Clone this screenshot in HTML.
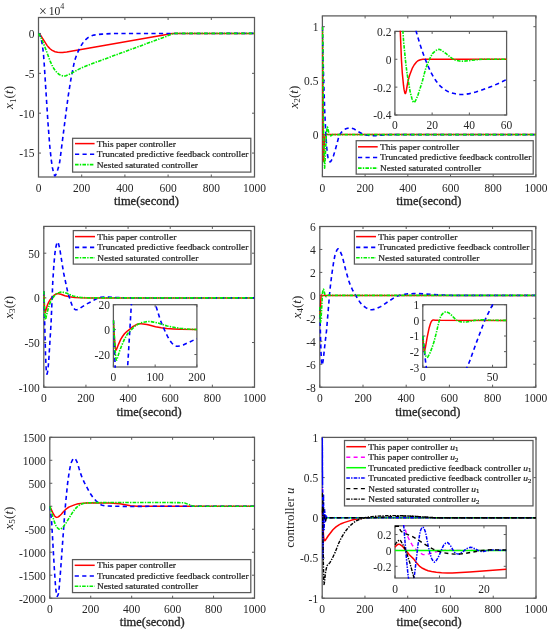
<!DOCTYPE html><html><head><meta charset="utf-8"><title>Simulation results</title><style>html,body{margin:0;padding:0;background:#fff;}svg{display:block;filter:blur(0.3px);}text{font-family:'Liberation Serif','Times New Roman',serif;fill:#262626;}</style></head><body>
<svg width="550" height="631" viewBox="0 0 550 631">
<rect width="550" height="631" fill="#fff"/>
<clipPath id="c1"><rect x="37.8" y="16.8" width="217.4" height="160.9"/></clipPath>
<path d="M38.5 177V174.5M38.5 17.5V20M81.7 177V174.5M81.7 17.5V20M124.9 177V174.5M124.9 17.5V20M168.1 177V174.5M168.1 17.5V20M211.3 177V174.5M211.3 17.5V20M254.5 177V174.5M254.5 17.5V20M38.5 153.07H41M254.5 153.07H252M38.5 113.2H41M254.5 113.2H252M38.5 73.33H41M254.5 73.33H252M38.5 33.45H41M254.5 33.45H252" stroke="#5a5a5a" stroke-width="1" fill="none"/>
<rect x="38.5" y="17.5" width="216" height="159.5" fill="none" stroke="#5a5a5a" stroke-width="1.25"/>
<path d="M38.5 33.4L39.7 34.4L41 35.8L47 45.4L48.2 46.9L50.3 49L52.2 50.4L55.1 51.7L57.6 52.3L60.5 52.6L62.5 52.5L66.7 51.9L88.2 48.3L172.3 33.5L254.5 33.4" fill="none" stroke="#ff0000" stroke-width="1.5" stroke-linejoin="round" clip-path="url(#c1)"/>
<path d="M38.5 33.4L39.1 33.8L39.7 34.8L40.4 36.2L40.9 37.8L42 43L43 49.9L43.6 55.5L44.1 62.2L47.9 121.9L49.8 146.4L51.2 159.4L52.3 167.1L53.5 172.7L54.4 175.1L54.7 175.7L54.9 175.8L55.3 175.5L55.8 174.8L57.7 169.7L58.8 166.1L59.7 162L60.5 156L65.1 119.7L68.3 95.3L71.1 78.2L74.2 62.5L75.3 58.7L76.8 54.4L78.5 50.7L80.4 46.9L81.9 44.4L83.4 42.2L86 39.3L88 37.6L89.3 36.9L91.7 35.8L93.9 35.1L96 34.7L102.1 34.1L113.8 33.5L254.5 33.4" fill="none" stroke="#0000ff" stroke-width="1.6" stroke-dasharray="4.2 3.3" stroke-linejoin="round" clip-path="url(#c1)"/>
<path d="M38.5 33.4L40.4 36.6L42.1 40.1L46.1 50.1L50 60.8L52 65.1L53.8 68.5L54.9 70.1L56 71.4L57.5 73.1L58.8 74.2L59.8 74.8L61.7 75.6L63 76L64.2 76.1L65.9 75.8L69.3 74.3L80.4 68.4L87.3 65.4L160 38.7L166.2 36.4L170.9 34.4L173.7 33.6L174.6 33.4L254.5 33.4" fill="none" stroke="#00ee00" stroke-width="1.6" stroke-dasharray="3.6 1.2 1.4 1.2" stroke-linejoin="round" clip-path="url(#c1)"/>
<text x="38.5" y="191.6" text-anchor="middle" font-size="11.5">0</text>
<text x="81.7" y="191.6" text-anchor="middle" font-size="11.5">200</text>
<text x="124.9" y="191.6" text-anchor="middle" font-size="11.5">400</text>
<text x="168.1" y="191.6" text-anchor="middle" font-size="11.5">600</text>
<text x="211.3" y="191.6" text-anchor="middle" font-size="11.5">800</text>
<text x="254.5" y="191.6" text-anchor="middle" font-size="11.5">1000</text>
<text x="34.5" y="157.48" text-anchor="end" font-size="11.5">-15</text>
<text x="34.5" y="117.61" text-anchor="end" font-size="11.5">-10</text>
<text x="34.5" y="77.73" text-anchor="end" font-size="11.5">-5</text>
<text x="34.5" y="37.86" text-anchor="end" font-size="11.5">0</text>
<text x="38.9" y="15.6" font-size="13.8">&#215;</text><text x="48.8" y="15.3" font-size="11.6">10</text><text x="60.2" y="8.8" font-size="8">4</text>
<rect x="72.6" y="138.3" width="178.2" height="33.8" fill="#fff" stroke="#5a5a5a" stroke-width="1.25"/>
<path d="M75 143.6H94.6" stroke="#ff0000" stroke-width="1.5" fill="none"/>
<text x="96.8" y="146.57" font-size="8.4" textLength="79.1" lengthAdjust="spacingAndGlyphs" stroke="#262626" stroke-width="0.22">This paper controller</text>
<path d="M75 154.2H94.6" stroke="#0000ff" stroke-width="1.6" stroke-dasharray="4.2 3.3" fill="none"/>
<text x="96.8" y="157.17" font-size="8.4" textLength="151.6" lengthAdjust="spacingAndGlyphs" stroke="#262626" stroke-width="0.22">Truncated predictive feedback controller</text>
<path d="M75 164.6H94.6" stroke="#00ee00" stroke-width="1.6" stroke-dasharray="3.6 1.2 1.4 1.2" fill="none"/>
<text x="96.8" y="167.57" font-size="8.4" textLength="101.2" lengthAdjust="spacingAndGlyphs" stroke="#262626" stroke-width="0.22">Nested saturated controller</text>
<text x="146.5" y="205.2" text-anchor="middle" font-size="11.5" textLength="65" lengthAdjust="spacingAndGlyphs" stroke="#262626" stroke-width="0.3">time(second)</text>
<text transform="translate(13.3 97.4) rotate(-90)" text-anchor="middle" font-size="13.2"><tspan font-style="italic">x</tspan><tspan font-size="9.24" dy="2.2">1</tspan><tspan dy="-2.2">(</tspan><tspan font-style="italic">t</tspan>)</text>
<clipPath id="c2"><rect x="321.7" y="15.2" width="214.9" height="162.2"/></clipPath>
<path d="M322.4 176.7V174.2M322.4 15.9V18.4M365.1 176.7V174.2M365.1 15.9V18.4M407.8 176.7V174.2M407.8 15.9V18.4M450.5 176.7V174.2M450.5 15.9V18.4M493.2 176.7V174.2M493.2 15.9V18.4M535.9 176.7V174.2M535.9 15.9V18.4M322.4 134.61H324.9M535.9 134.61H533.4M322.4 80.65H324.9M535.9 80.65H533.4M322.4 26.69H324.9M535.9 26.69H533.4" stroke="#5a5a5a" stroke-width="1" fill="none"/>
<rect x="322.4" y="15.9" width="213.5" height="160.8" fill="none" stroke="#5a5a5a" stroke-width="1.25"/>
<path d="M322.4 26.7L323.2 137.1L323.4 155.3L323.6 161.3L324 149.1L324.4 141.1L325 136.1L325.3 135L325.6 134.6L535.9 134.6" fill="none" stroke="#ff0000" stroke-width="1.5" stroke-linejoin="round" clip-path="url(#c2)"/>
<path d="M322.4 26.7L323 55.6L323.7 80.4L324.7 110.4L325.7 132L326.6 146.2L327.5 155L328.1 158L328.6 160L329.2 161.2L329.9 161.8L330.2 161.9L330.5 161.7L331.5 160.2L332.3 158.6L333.5 155.7L335.4 149.5L338.6 137.5L339.2 135.9L339.7 134.8L340.5 133.4L341.5 132.2L344.4 129.6L345.9 128.8L347.7 128.2L349.1 127.9L350.2 127.8L351.2 128L354.3 129.1L358.5 131.8L362.1 133.8L363.9 134.6L365 134.9L367.6 135.3L372.1 135.7L375.5 135.6L381.9 135.1L390.4 134.6L535.9 134.6" fill="none" stroke="#0000ff" stroke-width="1.6" stroke-dasharray="4.2 3.3" stroke-linejoin="round" clip-path="url(#c2)"/>
<path d="M322.4 26.7L322.6 31.5L322.9 45.4L323.3 111.9L323.6 137.1L324.2 159.8L324.6 168.1L325 162.5L326.3 135.4L326.8 129.9L327.1 127.7L327.4 127L327.8 127.8L329.1 134.5L329.5 135.6L330.1 136.1L330.5 136L332.1 134.8L332.6 134.6L535.9 134.6" fill="none" stroke="#00ee00" stroke-width="1.6" stroke-dasharray="3.6 1.2 1.4 1.2" stroke-linejoin="round" clip-path="url(#c2)"/>
<text x="322.4" y="191.8" text-anchor="middle" font-size="11.5">0</text>
<text x="365.1" y="191.8" text-anchor="middle" font-size="11.5">200</text>
<text x="407.8" y="191.8" text-anchor="middle" font-size="11.5">400</text>
<text x="450.5" y="191.8" text-anchor="middle" font-size="11.5">600</text>
<text x="493.2" y="191.8" text-anchor="middle" font-size="11.5">800</text>
<text x="535.9" y="191.8" text-anchor="middle" font-size="11.5">1000</text>
<text x="318.4" y="139.02" text-anchor="end" font-size="11.5">0</text>
<text x="318.4" y="85.06" text-anchor="end" font-size="11.5">0.5</text>
<text x="318.4" y="31.1" text-anchor="end" font-size="11.5">1</text>
<rect x="356.2" y="140.7" width="177" height="33.4" fill="#fff" stroke="#5a5a5a" stroke-width="1.25"/>
<path d="M358 146.8H377.7" stroke="#ff0000" stroke-width="1.5" fill="none"/>
<text x="380" y="149.77" font-size="8.4" textLength="79.1" lengthAdjust="spacingAndGlyphs" stroke="#262626" stroke-width="0.22">This paper controller</text>
<path d="M358 157.5H377.7" stroke="#0000ff" stroke-width="1.6" stroke-dasharray="4.2 3.3" fill="none"/>
<text x="380" y="160.47" font-size="8.4" textLength="151.3" lengthAdjust="spacingAndGlyphs" stroke="#262626" stroke-width="0.22">Truncated predictive feedback controller</text>
<path d="M358 168.1H377.7" stroke="#00ee00" stroke-width="1.6" stroke-dasharray="3.6 1.2 1.4 1.2" fill="none"/>
<text x="380" y="171.07" font-size="8.4" textLength="101.2" lengthAdjust="spacingAndGlyphs" stroke="#262626" stroke-width="0.22">Nested saturated controller</text>
<text x="428.8" y="204.6" text-anchor="middle" font-size="11.5" textLength="65" lengthAdjust="spacingAndGlyphs" stroke="#262626" stroke-width="0.3">time(second)</text>
<text transform="translate(297.8 97.1) rotate(-90)" text-anchor="middle" font-size="13.2"><tspan font-style="italic">x</tspan><tspan font-size="9.24" dy="2.2">2</tspan><tspan dy="-2.2">(</tspan><tspan font-style="italic">t</tspan>)</text>
<rect x="394.9" y="31.4" width="111.70000000000005" height="83.6" fill="#fff"/>
<clipPath id="c3"><rect x="394.2" y="30.7" width="113.1" height="85"/></clipPath>
<path d="M394.9 115V112.5M394.9 31.4V33.9M432.13 115V112.5M432.13 31.4V33.9M469.37 115V112.5M469.37 31.4V33.9M506.6 115V112.5M506.6 31.4V33.9M394.9 115H397.4M506.6 115H504.1M394.9 87.13H397.4M506.6 87.13H504.1M394.9 59.27H397.4M506.6 59.27H504.1M394.9 31.4H397.4M506.6 31.4H504.1" stroke="#5a5a5a" stroke-width="1" fill="none"/>
<rect x="394.9" y="31.4" width="111.7" height="83.6" fill="none" stroke="#5a5a5a" stroke-width="1.25"/>
<path d="M394.9 -80.1L395.8 -66.5L396.9 -47.5L398.5 -5.6L400.2 29.3L401.5 60.9L402.3 73.1L403.5 85.2L404 89.2L404.7 92.3L405.1 93.5L405.4 93.6L405.7 93.1L406.4 90.2L407.7 82.7L408.9 77.6L409.9 74.5L412.2 68.4L414.1 65L416.5 62L417.9 60.8L420.4 59.7L421.7 59.4L422.8 59.3L506.6 59.3" fill="none" stroke="#ff0000" stroke-width="1.5" stroke-linejoin="round" clip-path="url(#c3)"/>
<path d="M394.9 -80.1L398.7 -52.2L400.4 -41.6L402.3 -31.1L404.9 -17.9L408.9 0.9L412 15.1L414.6 25.8L416.9 34L419.7 43.4L422.2 51L424.7 57.9L427.9 65.8L430.8 72.1L433.3 76.6L436.1 81L438.6 84.3L440.9 86.7L444.8 89.7L448 91.6L450.4 92.6L455.5 93.8L459.6 94.4L463.2 94.5L466 94.3L469.5 93.6L475.8 92L481.2 90.3L488.6 87.6L493.6 85.6L499.6 82.9L506.6 79.5" fill="none" stroke="#0000ff" stroke-width="1.6" stroke-dasharray="4.2 3.3" stroke-linejoin="round" clip-path="url(#c3)"/>
<path d="M394.9 -80.1L395.4 -79.6L395.8 -78.4L396.8 -73.9L397.9 -65.7L398.9 -56L399.7 -40.5L402.7 28.3L403.6 41.4L405.5 60.7L406.3 67.5L407.1 73.7L409.9 90.3L410.5 93.4L411.9 98.4L412.8 100.9L413.4 102.1L413.8 102.4L414.2 102.4L414.5 102.2L415 101.6L415.9 99.9L417.7 95.8L422.2 81.9L425.4 69.6L427 65.1L428.8 60.9L431.2 55.8L432.5 53.6L435 51.2L436.1 50.4L437.2 49.8L438.1 49.5L438.9 49.4L439.8 49.5L440.7 49.9L442 50.7L446.2 53.7L450.8 57.4L452.7 58.8L454.5 59.7L456.1 60.4L459.5 61L461.6 61.2L464.3 61.1L478.6 59.6L482.7 59.3L506.6 59.3" fill="none" stroke="#00ee00" stroke-width="1.6" stroke-dasharray="3.6 1.2 1.4 1.2" stroke-linejoin="round" clip-path="url(#c3)"/>
<text x="394.9" y="128.5" text-anchor="middle" font-size="11.5">0</text>
<text x="432.13" y="128.5" text-anchor="middle" font-size="11.5">20</text>
<text x="469.37" y="128.5" text-anchor="middle" font-size="11.5">40</text>
<text x="506.6" y="128.5" text-anchor="middle" font-size="11.5">60</text>
<text x="391.4" y="119.41" text-anchor="end" font-size="11.5">-0.4</text>
<text x="391.4" y="91.54" text-anchor="end" font-size="11.5">-0.2</text>
<text x="391.4" y="63.68" text-anchor="end" font-size="11.5">0</text>
<text x="391.4" y="35.81" text-anchor="end" font-size="11.5">0.2</text>
<clipPath id="c4"><rect x="43.1" y="225.7" width="212.1" height="162.2"/></clipPath>
<path d="M43.8 387.2V384.7M43.8 226.4V228.9M85.94 387.2V384.7M85.94 226.4V228.9M128.08 387.2V384.7M128.08 226.4V228.9M170.22 387.2V384.7M170.22 226.4V228.9M212.36 387.2V384.7M212.36 226.4V228.9M254.5 387.2V384.7M254.5 226.4V228.9M43.8 387.2H46.3M254.5 387.2H252M43.8 342.53H46.3M254.5 342.53H252M43.8 297.87H46.3M254.5 297.87H252M43.8 253.2H46.3M254.5 253.2H252" stroke="#5a5a5a" stroke-width="1" fill="none"/>
<rect x="43.8" y="226.4" width="210.7" height="160.8" fill="none" stroke="#5a5a5a" stroke-width="1.25"/>
<path d="M43.8 291.2L44.4 305.6L44.7 310.1L45.1 312.6L45.6 311.4L47.5 304.7L48.5 302.6L49.6 300.5L50.6 299.1L54 295.3L55.8 294.1L57 293.7L58.5 293.8L60.9 294.3L64.9 295.8L69.4 296.8L74.9 297.4L81.5 297.8L89.9 297.9L254.5 297.9" fill="none" stroke="#ff0000" stroke-width="1.5" stroke-linejoin="round" clip-path="url(#c4)"/>
<path d="M43.8 291.2L45.6 357L46.2 369.2L46.7 373L47 374.2L47.2 373.6L47.6 371.8L48.1 368L48.8 359.9L49.8 343.6L51.1 322.7L52.8 281.4L53.9 264.5L54.9 253.7L55.6 248.2L56.7 243.8L57.2 242.5L57.6 242L57.9 242.1L58.3 242.9L59.7 248.4L63.6 272.9L67.6 291.5L70.2 300.2L71.7 304.3L72.8 306.6L73.6 308L74.9 309.4L75.6 309.8L76.9 309.7L78.8 309L86.2 304.2L91.8 301.5L95.5 299.2L98.1 298L99.4 297.4L100.6 297.2L108.1 297.1L117.1 297.6L130.9 297.9L254.5 297.9" fill="none" stroke="#0000ff" stroke-width="1.6" stroke-dasharray="4.2 3.3" stroke-linejoin="round" clip-path="url(#c4)"/>
<path d="M43.8 291.2L44.8 314.3L45 318.1L45.4 319.8L45.7 319.1L47.2 312.2L48.4 307.9L49.9 303.3L51.4 300.1L54.2 296L55.6 294.4L56.9 293.5L58 292.9L59.7 292.4L61.1 292.1L62.6 292.1L64.4 292.6L66.8 293.3L70.7 295.1L73.1 295.9L75.7 296.6L80.4 297.4L85.7 297.8L92.2 297.9L254.5 297.9" fill="none" stroke="#00ee00" stroke-width="1.6" stroke-dasharray="3.6 1.2 1.4 1.2" stroke-linejoin="round" clip-path="url(#c4)"/>
<text x="43.8" y="402.2" text-anchor="middle" font-size="11.5">0</text>
<text x="85.94" y="402.2" text-anchor="middle" font-size="11.5">200</text>
<text x="128.08" y="402.2" text-anchor="middle" font-size="11.5">400</text>
<text x="170.22" y="402.2" text-anchor="middle" font-size="11.5">600</text>
<text x="212.36" y="402.2" text-anchor="middle" font-size="11.5">800</text>
<text x="254.5" y="402.2" text-anchor="middle" font-size="11.5">1000</text>
<text x="39.8" y="391.61" text-anchor="end" font-size="11.5">-100</text>
<text x="39.8" y="346.94" text-anchor="end" font-size="11.5">-50</text>
<text x="39.8" y="302.28" text-anchor="end" font-size="11.5">0</text>
<text x="39.8" y="257.61" text-anchor="end" font-size="11.5">50</text>
<rect x="73.3" y="230.6" width="177.7" height="33.5" fill="#fff" stroke="#5a5a5a" stroke-width="1.25"/>
<path d="M75 236.6H95" stroke="#ff0000" stroke-width="1.5" fill="none"/>
<text x="97.2" y="239.57" font-size="8.4" textLength="79.1" lengthAdjust="spacingAndGlyphs" stroke="#262626" stroke-width="0.22">This paper controller</text>
<path d="M75 247.4H95" stroke="#0000ff" stroke-width="1.6" stroke-dasharray="4.2 3.3" fill="none"/>
<text x="97.2" y="250.37" font-size="8.4" textLength="151.1" lengthAdjust="spacingAndGlyphs" stroke="#262626" stroke-width="0.22">Truncated predictive feedback controller</text>
<path d="M75 257.8H95" stroke="#00ee00" stroke-width="1.6" stroke-dasharray="3.6 1.2 1.4 1.2" fill="none"/>
<text x="97.2" y="260.77" font-size="8.4" textLength="101.2" lengthAdjust="spacingAndGlyphs" stroke="#262626" stroke-width="0.22">Nested saturated controller</text>
<text x="149.1" y="415.6" text-anchor="middle" font-size="11.5" textLength="65" lengthAdjust="spacingAndGlyphs" stroke="#262626" stroke-width="0.3">time(second)</text>
<text transform="translate(12.9 307.3) rotate(-90)" text-anchor="middle" font-size="13.2"><tspan font-style="italic">x</tspan><tspan font-size="9.24" dy="2.2">3</tspan><tspan dy="-2.2">(</tspan><tspan font-style="italic">t</tspan>)</text>
<rect x="113.4" y="304.7" width="83.5" height="62.30000000000001" fill="#fff"/>
<clipPath id="c5"><rect x="112.7" y="304" width="84.9" height="63.7"/></clipPath>
<path d="M113.4 367V364.5M113.4 304.7V307.2M155.15 367V364.5M155.15 304.7V307.2M196.9 367V364.5M196.9 304.7V307.2M113.4 354.54H115.9M196.9 354.54H194.4M113.4 329.62H115.9M196.9 329.62H194.4M113.4 304.7H115.9M196.9 304.7H194.4" stroke="#5a5a5a" stroke-width="1" fill="none"/>
<rect x="113.4" y="304.7" width="83.5" height="62.3" fill="none" stroke="#5a5a5a" stroke-width="1.25"/>
<path d="M113.4 320.3L114 331.4L114.6 340.3L115.2 346.5L115.7 349.5L115.9 350.2L116.2 349.9L116.9 348.5L118.4 344.6L120.7 339.4L122.5 336.5L124.5 333.8L126.8 331.5L129.6 329.4L133.2 326.3L136 324.8L138.2 324L139.5 323.8L141.3 323.8L146.9 324.5L149.1 325L155.5 326.7L161.3 327.7L166.7 328.4L173.6 328.9L180.8 329.3L196.9 329.6" fill="none" stroke="#ff0000" stroke-width="1.5" stroke-linejoin="round" clip-path="url(#c5)"/>
<path d="M113.4 320.3L115.8 383.6L117 412.1L118.2 428.9L119 434.3L119.3 435.5L119.6 436L119.9 435.9L120.2 435.4L121 432.9L121.8 427.8L123.2 416.2L125.3 393.4L127.8 364L131.2 306.9L132.1 295.4L133.2 284.6L135.2 269.6L136.5 261.2L137.1 258.9L138.2 255.8L139.1 253.7L140 252.3L140.5 251.8L141 251.6L141.4 251.8L141.9 252.4L142.9 254.7L144.8 260.1L146.2 265.6L152.5 294.3L153.8 298.9L159.9 318.8L162.1 324.6L166.2 333.8L168.1 337.5L169.8 340.4L171.6 342.8L173 344.3L174.6 345.4L175.6 346L176.5 346.3L177.5 346.3L180.2 345.9L183.2 345L193.6 340.1L196.9 338.7" fill="none" stroke="#0000ff" stroke-width="1.6" stroke-dasharray="4.2 3.3" stroke-linejoin="round" clip-path="url(#c5)"/>
<path d="M113.4 320.3L115.3 352.3L115.8 357.8L116.2 359.6L116.5 360.1L116.8 359.9L117 359.3L119.6 351L121.7 345.5L124.5 339.1L126.9 334.8L128.1 333.1L129.4 331.6L134.7 326.4L135.8 325.5L137.1 324.7L140.6 323L142.5 322.4L146.4 321.7L148.7 321.5L150.9 321.6L153.5 322.1L158.2 323.1L164.8 325.3L167.3 326L175.3 327.6L180.1 328.3L185.2 328.9L190.4 329.2L196.9 329.5" fill="none" stroke="#00ee00" stroke-width="1.6" stroke-dasharray="3.6 1.2 1.4 1.2" stroke-linejoin="round" clip-path="url(#c5)"/>
<text x="113.4" y="380.5" text-anchor="middle" font-size="11.5">0</text>
<text x="155.15" y="380.5" text-anchor="middle" font-size="11.5">100</text>
<text x="196.9" y="380.5" text-anchor="middle" font-size="11.5">200</text>
<text x="109.9" y="358.95" text-anchor="end" font-size="11.5">-20</text>
<text x="109.9" y="334.03" text-anchor="end" font-size="11.5">0</text>
<text x="109.9" y="309.11" text-anchor="end" font-size="11.5">20</text>
<clipPath id="c6"><rect x="319.1" y="225.8" width="217.4" height="162.1"/></clipPath>
<path d="M319.8 387.2V384.7M319.8 226.5V229M363 387.2V384.7M363 226.5V229M406.2 387.2V384.7M406.2 226.5V229M449.4 387.2V384.7M449.4 226.5V229M492.6 387.2V384.7M492.6 226.5V229M535.8 387.2V384.7M535.8 226.5V229M319.8 387.2H322.3M535.8 387.2H533.3M319.8 364.24H322.3M535.8 364.24H533.3M319.8 341.29H322.3M535.8 341.29H533.3M319.8 318.33H322.3M535.8 318.33H533.3M319.8 295.37H322.3M535.8 295.37H533.3M319.8 272.41H322.3M535.8 272.41H533.3M319.8 249.46H322.3M535.8 249.46H533.3M319.8 226.5H322.3M535.8 226.5H533.3" stroke="#5a5a5a" stroke-width="1" fill="none"/>
<rect x="319.8" y="226.5" width="216" height="160.7" fill="none" stroke="#5a5a5a" stroke-width="1.25"/>
<path d="M319.8 306.9L320.1 317.9L320.8 300.6L321.1 296.3L321.4 295L322.2 295.4L535.8 295.4" fill="none" stroke="#ff0000" stroke-width="1.5" stroke-linejoin="round" clip-path="url(#c6)"/>
<path d="M319.8 306.9L320.5 336.7L321 352L321.5 360.8L321.9 364.1L322.1 365L322.3 364.8L322.5 364L323.2 360.2L325.2 341.8L326.5 331L329.5 294.8L330.5 285L331.8 274.4L333.7 261.7L334.9 255.5L335.4 254L336.6 250.7L337.3 249.5L337.9 248.9L338.3 248.9L338.7 249.1L339.5 250L340.4 251.9L341.8 255.1L342.9 258.8L345.5 269.3L348.7 280.7L350.5 285.5L352.8 290.5L358.7 300.4L360.2 302.6L361.6 304.4L362.9 305.6L366.2 307.9L368.3 309L370.1 309.7L372.1 309.8L374.2 309.4L376.5 308.6L380.7 306.6L382.8 305.4L387.7 301.9L393.5 298.2L395.6 296.9L397.5 296L399.1 295.4L402 294.8L404.8 294.3L407.5 293.9L413.8 293.6L418.4 293.6L438.2 294.9L451.9 295.4L535.8 295.4" fill="none" stroke="#0000ff" stroke-width="1.6" stroke-dasharray="4.2 3.3" stroke-linejoin="round" clip-path="url(#c6)"/>
<path d="M319.8 306.9L320.2 320.2L320.4 322.2L320.5 322.6L320.5 322.4L321 318.9L321.4 313L322.5 292.9L322.9 290.3L323.2 289.4L323.4 289.2L323.6 289.5L324 290.4L325.1 295.6L325.7 296.4L326.4 296.6L326.7 296.5L327.8 295.4L328.9 295L331 295.4L535.8 295.4" fill="none" stroke="#00ee00" stroke-width="1.6" stroke-dasharray="3.6 1.2 1.4 1.2" stroke-linejoin="round" clip-path="url(#c6)"/>
<text x="319.8" y="402.4" text-anchor="middle" font-size="11.5">0</text>
<text x="363" y="402.4" text-anchor="middle" font-size="11.5">200</text>
<text x="406.2" y="402.4" text-anchor="middle" font-size="11.5">400</text>
<text x="449.4" y="402.4" text-anchor="middle" font-size="11.5">600</text>
<text x="492.6" y="402.4" text-anchor="middle" font-size="11.5">800</text>
<text x="535.8" y="402.4" text-anchor="middle" font-size="11.5">1000</text>
<text x="315.8" y="391.61" text-anchor="end" font-size="11.5">-8</text>
<text x="315.8" y="368.65" text-anchor="end" font-size="11.5">-6</text>
<text x="315.8" y="345.7" text-anchor="end" font-size="11.5">-4</text>
<text x="315.8" y="322.74" text-anchor="end" font-size="11.5">-2</text>
<text x="315.8" y="299.78" text-anchor="end" font-size="11.5">0</text>
<text x="315.8" y="276.82" text-anchor="end" font-size="11.5">2</text>
<text x="315.8" y="253.87" text-anchor="end" font-size="11.5">4</text>
<text x="315.8" y="230.91" text-anchor="end" font-size="11.5">6</text>
<rect x="354.4" y="230.7" width="177.6" height="33.4" fill="#fff" stroke="#5a5a5a" stroke-width="1.25"/>
<path d="M356.1 236.6H376" stroke="#ff0000" stroke-width="1.5" fill="none"/>
<text x="378.2" y="239.57" font-size="8.4" textLength="79.1" lengthAdjust="spacingAndGlyphs" stroke="#262626" stroke-width="0.22">This paper controller</text>
<path d="M356.1 247.4H376" stroke="#0000ff" stroke-width="1.6" stroke-dasharray="4.2 3.3" fill="none"/>
<text x="378.2" y="250.37" font-size="8.4" textLength="151.1" lengthAdjust="spacingAndGlyphs" stroke="#262626" stroke-width="0.22">Truncated predictive feedback controller</text>
<path d="M356.1 257.8H376" stroke="#00ee00" stroke-width="1.6" stroke-dasharray="3.6 1.2 1.4 1.2" fill="none"/>
<text x="378.2" y="260.77" font-size="8.4" textLength="101.2" lengthAdjust="spacingAndGlyphs" stroke="#262626" stroke-width="0.22">Nested saturated controller</text>
<text x="427.8" y="415.6" text-anchor="middle" font-size="11.5" textLength="65" lengthAdjust="spacingAndGlyphs" stroke="#262626" stroke-width="0.3">time(second)</text>
<text transform="translate(300.5 307.1) rotate(-90)" text-anchor="middle" font-size="13.2"><tspan font-style="italic">x</tspan><tspan font-size="9.24" dy="2.2">4</tspan><tspan dy="-2.2">(</tspan><tspan font-style="italic">t</tspan>)</text>
<rect x="422.8" y="304.7" width="83.69999999999999" height="62.60000000000002" fill="#fff"/>
<clipPath id="c7"><rect x="422.1" y="304" width="85.1" height="64"/></clipPath>
<path d="M422.8 367.3V364.8M422.8 304.7V307.2M492.55 367.3V364.8M492.55 304.7V307.2M422.8 367.3H425.3M506.5 367.3H504M422.8 351.65H425.3M506.5 351.65H504M422.8 336H425.3M506.5 336H504M422.8 320.35H425.3M506.5 320.35H504M422.8 304.7H425.3M506.5 304.7H504" stroke="#5a5a5a" stroke-width="1" fill="none"/>
<rect x="422.8" y="304.7" width="83.7" height="62.6" fill="none" stroke="#5a5a5a" stroke-width="1.25"/>
<path d="M422.8 336L423.4 344.7L424 349.8L424.3 351.2L424.7 350.5L425.5 347.1L427.1 337.6L428.4 331.3L429.2 327.7L430.4 323.8L431.2 321.8L431.8 320.9L432.5 320.3L433.1 319.9L433.6 319.9L435.3 320.2L438.1 320.3L506.5 320.4" fill="none" stroke="#ff0000" stroke-width="1.5" stroke-linejoin="round" clip-path="url(#c7)"/>
<path d="M422.8 336L425.2 358.6L428 380.4L429.4 390.4L431.6 401.8L432.5 405.9L433.3 408.8L433.9 410.2L435.2 412.7L436.3 414.3L437.2 415.2L438.1 415.3L439.2 414.9L440.4 413.9L442.7 411.4L443.8 410.1L445 408.2L450.7 397.6L457.7 383.6L464 373.1L466.1 369.1L468.1 365L470.2 359.8L476.2 343L482.9 325.3L484.7 320.7L487.2 315.3L491.4 306.9L496.5 297.9L501.5 289.8L506.5 282.8" fill="none" stroke="#0000ff" stroke-width="1.6" stroke-dasharray="4.2 3.3" stroke-linejoin="round" clip-path="url(#c7)"/>
<path d="M422.8 336L423.8 346L425 353.5L425.5 355.2L425.9 356.2L426.6 357.2L427.2 357.4L427.6 357.2L428 356.6L429.9 353.2L431.2 349.9L433 345L434.4 340.3L436.3 332.9L438.8 322.2L440.4 317.3L441 315.9L441.6 314.9L443.3 313.1L444.7 312.2L445.6 311.9L446.6 312L447.7 312.4L449.4 313.3L450.5 314.2L455.3 319.1L456.6 320.2L457.5 320.7L458.7 321.2L461.3 321.9L464.4 322L466.6 322L474.3 320.4L480.3 319.9L483.8 319.9L494.4 320.3L506.5 320.4" fill="none" stroke="#00ee00" stroke-width="1.6" stroke-dasharray="3.6 1.2 1.4 1.2" stroke-linejoin="round" clip-path="url(#c7)"/>
<text x="422.8" y="380.8" text-anchor="middle" font-size="11.5">0</text>
<text x="492.55" y="380.8" text-anchor="middle" font-size="11.5">50</text>
<text x="419.3" y="371.71" text-anchor="end" font-size="11.5">-3</text>
<text x="419.3" y="356.06" text-anchor="end" font-size="11.5">-2</text>
<text x="419.3" y="340.41" text-anchor="end" font-size="11.5">-1</text>
<text x="419.3" y="324.76" text-anchor="end" font-size="11.5">0</text>
<text x="419.3" y="309.11" text-anchor="end" font-size="11.5">1</text>
<clipPath id="c8"><rect x="49.1" y="436.6" width="206.1" height="162.3"/></clipPath>
<path d="M49.8 598.2V595.7M49.8 437.3V439.8M90.74 598.2V595.7M90.74 437.3V439.8M131.68 598.2V595.7M131.68 437.3V439.8M172.62 598.2V595.7M172.62 437.3V439.8M213.56 598.2V595.7M213.56 437.3V439.8M254.5 598.2V595.7M254.5 437.3V439.8M49.8 598.2H52.3M254.5 598.2H252M49.8 575.21H52.3M254.5 575.21H252M49.8 552.23H52.3M254.5 552.23H252M49.8 529.24H52.3M254.5 529.24H252M49.8 506.26H52.3M254.5 506.26H252M49.8 483.27H52.3M254.5 483.27H252M49.8 460.29H52.3M254.5 460.29H252M49.8 437.3H52.3M254.5 437.3H252" stroke="#5a5a5a" stroke-width="1" fill="none"/>
<rect x="49.8" y="437.3" width="204.7" height="160.9" fill="none" stroke="#5a5a5a" stroke-width="1.25"/>
<path d="M49.8 506.3L52.6 512.4L54.4 515.6L55.3 516.7L56.1 517.2L56.8 517.4L57.8 517.1L59.5 516L61.3 514.3L63.4 511.7L65.4 509.7L67.5 508L69.3 506.9L75.1 504.6L76.8 504.1L80.7 503.4L86.2 502.9L90.6 502.8L102.6 502.9L109.9 503.1L116.3 503.4L119.9 503.7L130.5 505.7L137.1 506.2L254.5 506.3" fill="none" stroke="#ff0000" stroke-width="1.5" stroke-linejoin="round" clip-path="url(#c8)"/>
<path d="M49.8 506.3L50.7 512.1L51.7 522.9L54.3 568.3L55.4 584.5L55.8 588.9L56.4 593.4L56.8 595.7L57.2 596.4L57.4 596.2L57.7 595.7L58.5 593.4L59.2 587.6L60.6 570.3L64.8 512.3L66.4 495.1L67.6 483.4L69.2 471.9L70.6 464.9L71.2 462.8L72.2 460.5L73.1 458.9L73.9 458.3L74.5 458.3L75.2 458.8L76 460L77 461.9L77.6 463.6L79.2 469L81.1 474.9L82.4 478.4L84.4 482.6L89.8 492.9L92.8 497.2L96 500.8L97.5 502.2L99.8 504.1L101.1 504.8L102.2 505.2L105 505.8L107.5 506L128.9 506.5L151.6 506.3L254.5 506.3" fill="none" stroke="#0000ff" stroke-width="1.6" stroke-dasharray="4.2 3.3" stroke-linejoin="round" clip-path="url(#c8)"/>
<path d="M49.8 506.3L53.9 520.5L55.4 524.6L56.2 526.3L56.9 527.3L58.4 528.8L59 529.1L59.5 529.2L60.4 529.1L61.4 528.5L62.4 527.9L63.2 526.9L65.9 523.2L73.2 511.4L74.9 509.3L76.6 507.4L79 505.4L80.5 504.4L83.4 503.5L87.1 502.9L90.6 502.7L114.3 502.5L151.3 502.5L178.4 502.6L183.7 502.8L184.6 502.9L192.1 505.8L193.3 506.1L194.3 506.3L254.5 506.3" fill="none" stroke="#00ee00" stroke-width="1.6" stroke-dasharray="3.6 1.2 1.4 1.2" stroke-linejoin="round" clip-path="url(#c8)"/>
<text x="49.8" y="612.9" text-anchor="middle" font-size="11.5">0</text>
<text x="90.74" y="612.9" text-anchor="middle" font-size="11.5">200</text>
<text x="131.68" y="612.9" text-anchor="middle" font-size="11.5">400</text>
<text x="172.62" y="612.9" text-anchor="middle" font-size="11.5">600</text>
<text x="213.56" y="612.9" text-anchor="middle" font-size="11.5">800</text>
<text x="254.5" y="612.9" text-anchor="middle" font-size="11.5">1000</text>
<text x="45.8" y="602.61" text-anchor="end" font-size="11.5">-2000</text>
<text x="45.8" y="579.62" text-anchor="end" font-size="11.5">-1500</text>
<text x="45.8" y="556.64" text-anchor="end" font-size="11.5">-1000</text>
<text x="45.8" y="533.65" text-anchor="end" font-size="11.5">-500</text>
<text x="45.8" y="510.67" text-anchor="end" font-size="11.5">0</text>
<text x="45.8" y="487.68" text-anchor="end" font-size="11.5">500</text>
<text x="45.8" y="464.7" text-anchor="end" font-size="11.5">1000</text>
<text x="45.8" y="441.71" text-anchor="end" font-size="11.5">1500</text>
<rect x="72.5" y="559.6" width="178.3" height="33" fill="#fff" stroke="#5a5a5a" stroke-width="1.25"/>
<path d="M74.7 565.3H94.7" stroke="#ff0000" stroke-width="1.5" fill="none"/>
<text x="96.9" y="568.27" font-size="8.4" textLength="79.1" lengthAdjust="spacingAndGlyphs" stroke="#262626" stroke-width="0.22">This paper controller</text>
<path d="M74.7 576H94.7" stroke="#0000ff" stroke-width="1.6" stroke-dasharray="4.2 3.3" fill="none"/>
<text x="96.9" y="578.97" font-size="8.4" textLength="151.7" lengthAdjust="spacingAndGlyphs" stroke="#262626" stroke-width="0.22">Truncated predictive feedback controller</text>
<path d="M74.7 586.2H94.7" stroke="#00ee00" stroke-width="1.6" stroke-dasharray="3.6 1.2 1.4 1.2" fill="none"/>
<text x="96.9" y="589.17" font-size="8.4" textLength="101.2" lengthAdjust="spacingAndGlyphs" stroke="#262626" stroke-width="0.22">Nested saturated controller</text>
<text x="152.2" y="625.8" text-anchor="middle" font-size="11.5" textLength="65" lengthAdjust="spacingAndGlyphs" stroke="#262626" stroke-width="0.3">time(second)</text>
<text transform="translate(13 518) rotate(-90)" text-anchor="middle" font-size="13.2"><tspan font-style="italic">x</tspan><tspan font-size="9.24" dy="2.2">5</tspan><tspan dy="-2.2">(</tspan><tspan font-style="italic">t</tspan>)</text>
<clipPath id="c9"><rect x="321.5" y="436.7" width="215.2" height="162.2"/></clipPath>
<path d="M322.2 598.2V595.7M322.2 437.4V439.9M364.96 598.2V595.7M364.96 437.4V439.9M407.72 598.2V595.7M407.72 437.4V439.9M450.48 598.2V595.7M450.48 437.4V439.9M493.24 598.2V595.7M493.24 437.4V439.9M536 598.2V595.7M536 437.4V439.9M322.2 598.2H324.7M536 598.2H533.5M322.2 558H324.7M536 558H533.5M322.2 517.8H324.7M536 517.8H533.5M322.2 477.6H324.7M536 477.6H533.5M322.2 437.4H324.7M536 437.4H533.5" stroke="#5a5a5a" stroke-width="1" fill="none"/>
<rect x="322.2" y="437.4" width="213.8" height="160.8" fill="none" stroke="#5a5a5a" stroke-width="1.25"/>
<path d="M322.2 514.6L322.4 511.6L322.5 513.1L323.4 533.2L323.6 537L324.1 539.7L324.5 540.4L324.8 540.7L325.6 539.9L328.1 536L332.9 529.7L336 526.9L339 524.8L341.2 523.7L343.9 522.6L351.8 520.1L357 519.1L364.9 518.1L369.2 517.8L536 517.8" fill="none" stroke="#ff0000" stroke-width="1.5" stroke-linejoin="round" clip-path="url(#c9)"/>
<path d="M322.2 488.9L322.4 488.9L322.4 489L322.6 491.3L323 512.8L323.3 518.4L323.6 522.1L323.9 521L324.4 518.3L324.5 517.8L324.9 517.6L325.2 517.8L536 517.8" fill="none" stroke="#ff00ff" stroke-width="1.4" stroke-dasharray="4 3.3" stroke-linejoin="round" clip-path="url(#c9)"/>
<path d="M322.2 517.8L536 517.8" fill="none" stroke="#00ff00" stroke-width="1.5" stroke-linejoin="round" clip-path="url(#c9)"/>
<path d="M322.2 437.4L322.2 472.1L322.3 439L322.4 477.6L322.4 445.4L322.5 484L322.5 471.6L323 558L323.4 501.3L323.5 494.2L323.9 524.3L324.1 529.7L324.7 509.8L325.1 519.6L325.3 521.6L325.7 515.9L325.8 514.7L326.4 518.8L326.9 517.3L327.2 517.6L327.8 517.8L536 517.8" fill="none" stroke="#0000ff" stroke-width="1.5" stroke-dasharray="3.6 1.2 1.4 1.2" stroke-linejoin="round" clip-path="url(#c9)"/>
<path d="M322.2 493.3L322.4 493.3L322.6 499.3L323 503.8L324.1 517.2L324.6 520.2L324.8 521.1L325.1 521.6L325.6 520.8L326.3 517.9L326.7 517.3L326.9 517.2L328.6 517.8L367.5 517.8L377.5 517.4L388.2 516.9L398.6 516.2L403.8 516L409.2 516.2L419.3 516.6L432.7 517.6L438.6 517.8L536 517.8" fill="none" stroke="#000000" stroke-width="1.4" stroke-dasharray="4 3.3" stroke-linejoin="round" clip-path="url(#c9)"/>
<path d="M322.2 512.2L322.4 507.3L322.6 513.3L323.4 564.6L323.8 580.4L324 584.5L324.2 583.9L324.6 581.6L325.3 574.3L325.7 571.6L326.3 568.5L327 565.9L327.6 564.9L328.9 563.7L329.9 562.6L331.1 560.6L332.4 558.2L335.1 552.4L338.7 543.2L340.4 539.7L342.2 536.3L344.1 533.2L346.8 529.5L348.9 526.9L351 524.9L353.7 522.6L356.3 520.9L359.2 519.5L362.3 518.4L364.3 517.8L367.8 517.2L374.5 516.3L385.8 515.8L396.2 515.6L404.5 515.8L414.3 516.3L427.2 517.3L439.7 517.8L536 517.8" fill="none" stroke="#000000" stroke-width="1.4" stroke-dasharray="3.6 1.2 1.4 1.2" stroke-linejoin="round" clip-path="url(#c9)"/>
<text x="322.2" y="612.9" text-anchor="middle" font-size="11.5">0</text>
<text x="364.96" y="612.9" text-anchor="middle" font-size="11.5">200</text>
<text x="407.72" y="612.9" text-anchor="middle" font-size="11.5">400</text>
<text x="450.48" y="612.9" text-anchor="middle" font-size="11.5">600</text>
<text x="493.24" y="612.9" text-anchor="middle" font-size="11.5">800</text>
<text x="536" y="612.9" text-anchor="middle" font-size="11.5">1000</text>
<text x="318.2" y="602.61" text-anchor="end" font-size="11.5">-1</text>
<text x="318.2" y="562.41" text-anchor="end" font-size="11.5">-0.5</text>
<text x="318.2" y="522.21" text-anchor="end" font-size="11.5">0</text>
<text x="318.2" y="482.01" text-anchor="end" font-size="11.5">0.5</text>
<text x="318.2" y="441.81" text-anchor="end" font-size="11.5">1</text>
<rect x="344.5" y="440.5" width="188.5" height="65.4" fill="#fff" stroke="#5a5a5a" stroke-width="1.25"/>
<path d="M346.3 446.7H366" stroke="#ff0000" stroke-width="1.5" fill="none"/>
<text x="368.2" y="449.67" font-size="8.4" textLength="90.2" lengthAdjust="spacingAndGlyphs" stroke="#262626" stroke-width="0.22">This paper controller <tspan font-style="italic">u</tspan><tspan font-size="6" dy="1.6">1</tspan></text>
<path d="M346.3 457.2H366" stroke="#ff00ff" stroke-width="1.4" stroke-dasharray="4 3.3" fill="none"/>
<text x="368.2" y="460.17" font-size="8.4" textLength="90.2" lengthAdjust="spacingAndGlyphs" stroke="#262626" stroke-width="0.22">This paper controller <tspan font-style="italic">u</tspan><tspan font-size="6" dy="1.6">2</tspan></text>
<path d="M346.3 467.7H366" stroke="#00ff00" stroke-width="1.5" fill="none"/>
<text x="368.2" y="470.67" font-size="8.4" textLength="163.1" lengthAdjust="spacingAndGlyphs" stroke="#262626" stroke-width="0.22">Truncated predictive feedback controller <tspan font-style="italic">u</tspan><tspan font-size="6" dy="1.6">1</tspan></text>
<path d="M346.3 478.1H366" stroke="#0000ff" stroke-width="1.5" stroke-dasharray="3.6 1.2 1.4 1.2" fill="none"/>
<text x="368.2" y="481.07" font-size="8.4" textLength="163.1" lengthAdjust="spacingAndGlyphs" stroke="#262626" stroke-width="0.22">Truncated predictive feedback controller <tspan font-style="italic">u</tspan><tspan font-size="6" dy="1.6">2</tspan></text>
<path d="M346.3 488.6H366" stroke="#000000" stroke-width="1.4" stroke-dasharray="4 3.3" fill="none"/>
<text x="368.2" y="491.57" font-size="8.4" textLength="111.2" lengthAdjust="spacingAndGlyphs" stroke="#262626" stroke-width="0.22">Nested saturated controller <tspan font-style="italic">u</tspan><tspan font-size="6" dy="1.6">1</tspan></text>
<path d="M346.3 499.1H366" stroke="#000000" stroke-width="1.4" stroke-dasharray="3.6 1.2 1.4 1.2" fill="none"/>
<text x="368.2" y="502.07" font-size="8.4" textLength="111.2" lengthAdjust="spacingAndGlyphs" stroke="#262626" stroke-width="0.22">Nested saturated controller <tspan font-style="italic">u</tspan><tspan font-size="6" dy="1.6">2</tspan></text>
<text x="429.1" y="625.8" text-anchor="middle" font-size="11.5" textLength="65" lengthAdjust="spacingAndGlyphs" stroke="#262626" stroke-width="0.3">time(second)</text>
<text transform="translate(293.9 517.6) rotate(-90)" text-anchor="middle" font-size="13">controller <tspan font-style="italic">u</tspan></text>
<rect x="395.0" y="525.8" width="111.19999999999999" height="52.200000000000045" fill="#fff"/>
<clipPath id="c10"><rect x="394.3" y="525.1" width="112.6" height="53.6"/></clipPath>
<path d="M395 578V575.5M395 525.8V528.3M439.48 578V575.5M439.48 525.8V528.3M483.96 578V575.5M483.96 525.8V528.3M395 566.32H397.5M506.2 566.32H503.7M395 550.43H397.5M506.2 550.43H503.7M395 534.54H397.5M506.2 534.54H503.7" stroke="#5a5a5a" stroke-width="1" fill="none"/>
<rect x="395" y="525.8" width="111.2" height="52.2" fill="none" stroke="#5a5a5a" stroke-width="1.25"/>
<path d="M395 547.3L396.3 545.6L397 545L397.8 544.5L398.4 544.3L399.1 544.2L399.8 544.4L400.4 544.8L402 545.9L403.1 547L409.3 554.8L413.6 558.9L416.7 563L418.7 565.3L420.1 566.7L422.5 568.3L425.6 569.8L428.1 570.8L431.6 571.5L436.3 572.3L441.6 572.7L447.3 573L452.2 573L469.7 572L506.2 569.2" fill="none" stroke="#ff0000" stroke-width="1.5" stroke-linejoin="round" clip-path="url(#c10)"/>
<path d="M395 521.8L399.4 521.8L400.1 521.9L401.4 522.7L403.1 524.3L403.8 525.4L404.6 527.3L406.1 532.4L407.9 537L410 541.2L412.3 545.1L414.3 547.8L417 550.4L418.6 551.7L421.5 553.7L422.5 554.3L423.2 554.6L424.1 554.6L425.8 554.5L430.3 553.6L436 551.7L438.1 551.2L442.1 550.6L445.8 550.3L450.6 550.2L457.2 550.4L506.2 550.4" fill="none" stroke="#ff00ff" stroke-width="1.4" stroke-dasharray="4 3.3" stroke-linejoin="round" clip-path="url(#c10)"/>
<path d="M395 550.4L506.2 550.4" fill="none" stroke="#00ff00" stroke-width="1.5" stroke-linejoin="round" clip-path="url(#c10)"/>
<path d="M395 471L395.6 497.7L396 506.4L396.1 506.7L396.2 505.8L396.3 503.2L396.9 479.9L397.2 472.6L397.4 476.5L398.1 506.7L398.3 510.7L398.6 507.4L399.1 485.8L399.4 478.9L399.7 482.9L400.4 516L400.6 517.1L400.8 515.6L401.6 503.2L401.7 502.8L401.8 502.9L402 503.9L402.6 509.8L403.6 524.4L406.1 554.9L407.8 572.7L408.6 579.2L409.6 585.2L410.3 588.9L410.9 590.1L411.1 590.1L411.5 589.7L412 588.3L412.9 584.9L413.6 581.3L414.8 572.5L418 544.6L419.7 534.2L420.2 531.5L420.7 530L421.8 527.9L422.6 527.1L423.1 527.2L423.8 528L424.6 529.7L425.6 532.4L426.2 535.4L428.1 545.6L429.9 553L431 556.9L431.7 558.6L432.8 560.5L433.7 561.7L434.4 562.2L435 562.1L435.7 561.5L438 557.8L439 555.7L442.7 547.1L443.6 545.3L445.5 543.2L446.2 542.8L446.8 542.5L447.4 542.5L448 542.9L449.5 544.4L451.5 547.1L453.5 551L454.4 552.2L456.5 553.6L458.2 554.1L459.3 554.1L460.6 553.4L463.5 551.3L465.7 549.3L466.7 548.6L468.9 547.7L470.5 547.3L471.4 547.4L472.4 547.6L475.5 549L478.5 550.6L480.4 551.2L481.7 551.4L483.5 551.4L487.2 550.6L492.3 550L499.2 550.3L506.2 550.4" fill="none" stroke="#0000ff" stroke-width="1.5" stroke-dasharray="3.6 1.2 1.4 1.2" stroke-linejoin="round" clip-path="url(#c10)"/>
<path d="M395 526.2L399.2 526.2L399.4 526.8L399.9 529.3L400.1 529.9L401.1 531.2L402.7 532.4L404.6 533.3L410.5 535.6L412.6 536.6L419.6 540.9L426.2 545.2L433.9 549.5L436.1 550.5L438.1 551.2L441 552.1L443.8 552.8L450.3 553.8L454 554.1L456.9 554.1L462.1 553.7L464.9 553.4L471.7 552.3L479.6 550.8L484.6 550.2L492.1 549.8L506.2 550" fill="none" stroke="#000000" stroke-width="1.4" stroke-dasharray="4 3.3" stroke-linejoin="round" clip-path="url(#c10)"/>
<path d="M395 544.9L396.1 543L397.1 541.8L398.9 540.4L399.4 540.2L400 540.1L400.4 540.4L400.9 541.1L404 546.6L405.8 550.6L407.9 556.7L409.7 562.4L413.9 577.5L417.6 589L420 595.8L421.2 598.7L424.8 606.3L427.2 611.2L428.4 613L429.5 614.5L430.5 615.6L431.4 616.1L432 616.3L432.9 616.4L436.3 616L439.5 615.3L444.9 613.7L448.8 612L456.7 607.5L460.1 605.9L465.2 604.1L471.8 602.3L480.3 600.4L490.4 598.6L498.3 597.6L506.2 597" fill="none" stroke="#000000" stroke-width="1.4" stroke-dasharray="3.6 1.2 1.4 1.2" stroke-linejoin="round" clip-path="url(#c10)"/>
<text x="395" y="592.8" text-anchor="middle" font-size="11.5">0</text>
<text x="439.48" y="592.8" text-anchor="middle" font-size="11.5">10</text>
<text x="483.96" y="592.8" text-anchor="middle" font-size="11.5">20</text>
<text x="391.5" y="570.73" text-anchor="end" font-size="11.5">-0.2</text>
<text x="391.5" y="554.84" text-anchor="end" font-size="11.5">0</text>
<text x="391.5" y="538.95" text-anchor="end" font-size="11.5">0.2</text>
</svg></body></html>
